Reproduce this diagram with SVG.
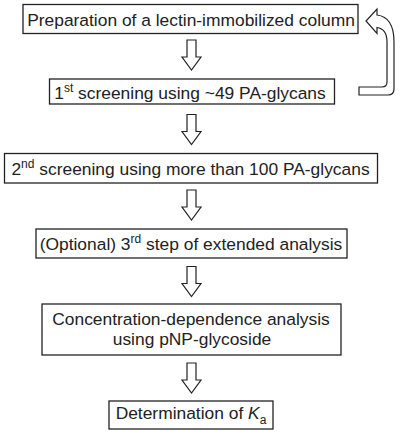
<svg xmlns="http://www.w3.org/2000/svg" width="400" height="434" viewBox="0 0 400 434">
<style>
.box{fill:#fff;stroke:#222;stroke-width:1.3}
.arr{fill:#fff;stroke:#222;stroke-width:1.2;stroke-linejoin:miter}
text{font-family:"Liberation Sans",Arial,sans-serif;font-size:17.4px;fill:#222;text-anchor:middle}
.sup{font-size:12px}
</style>
<defs>
<path id="down" class="arr" d="M -4.5 0 H 4.5 V 17 H 9.5 L 0 30 L -9.5 17 H -4.5 Z"/>
</defs>
<rect width="400" height="434" fill="#fff"/>
<g id="connectors">
<use href="#down" x="191.5" y="40"/>
<use href="#down" x="191.5" y="114.5"/>
<use href="#down" x="191.5" y="190"/>
<use href="#down" x="191.5" y="266.5"/>
<use href="#down" x="191.5" y="363"/>
<path id="feedback" class="arr" d="M 359 87 L 382 87 Q 387 87 387 82 L 387 42 Q 387 29 377 27.5 L 377 33.5 L 366 21 L 377 9 L 377 15 Q 394 17 394 42 L 394 89 Q 394 95 388 95 L 359 95 Z"/>
</g>
<g id="n1">
<rect class="box" x="23" y="4.5" width="335" height="29"/>
<text x="191" y="26">Preparation of a lectin-immobilized column</text>
</g>
<g id="n2">
<rect class="box" x="49.5" y="79" width="285" height="25"/>
<text x="190" y="99">1<tspan class="sup" dy="-7">st</tspan><tspan dy="7"> screening using ~49 PA-glycans</tspan></text>
</g>
<g id="n3">
<rect class="box" x="4.5" y="153.5" width="373" height="29.5"/>
<text x="190.5" y="175">2<tspan class="sup" dy="-7">nd</tspan><tspan dy="7"> screening using more than 100 PA-glycans</tspan></text>
</g>
<g id="n4">
<rect class="box" x="36" y="229" width="311" height="29"/>
<text x="191" y="250">(Optional) 3<tspan class="sup" dy="-7">rd</tspan><tspan dy="7"> step of extended analysis</tspan></text>
</g>
<g id="n5">
<rect class="box" x="42" y="304" width="299" height="51"/>
<text x="191" y="325">Concentration-dependence analysis</text>
<text x="192" y="345">using pNP-glycoside</text>
</g>
<g id="n6">
<rect class="box" x="109" y="401" width="164" height="28"/>
<text x="191" y="419">Determination of <tspan font-style="italic">K</tspan><tspan class="sup" font-size="13px" dy="5">a</tspan></text>
</g>
</svg>
